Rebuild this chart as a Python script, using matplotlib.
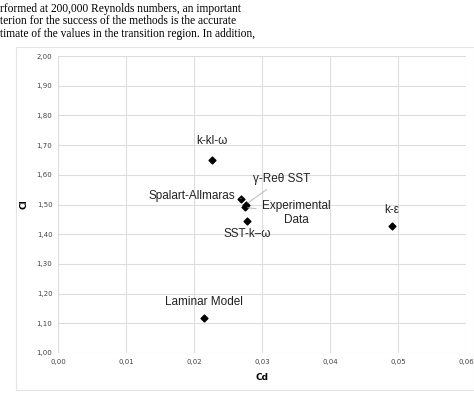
import matplotlib
matplotlib.use("Agg")
import matplotlib.pyplot as plt
from matplotlib.patches import Rectangle

models = ["k-kl-ω", "Spalart-Allmaras", "γ-Reθ SST", "Experimental\nData", "SST-k–ω", "k-ε", "Laminar Model"]
cd = [0.0226, 0.0269, 0.0276, 0.0275, 0.0278, 0.0491, 0.0215]
cl = [1.650, 1.520, 1.500, 1.490, 1.444, 1.428, 1.118]
xticks = [0.00, 0.01, 0.02, 0.03, 0.04, 0.05, 0.06]
yticks = [1.00, 1.10, 1.20, 1.30, 1.40, 1.50, 1.60, 1.70, 1.80, 1.90, 2.00]

W, H = 474, 413
fig = plt.figure(figsize=(W/100, H/100), dpi=100)
fig.patch.set_facecolor("white")

lines = ["rformed at 200,000 Reynolds numbers, an important",
         "terion for the success of the methods is the accurate",
         "timate of the values in the transition region. In addition,"]
for i, t in enumerate(lines):
    fig.text(0.0, 1 - (9 + 12.5*i)/H, t, family="Liberation Serif", fontsize=8.3, va="center", ha="left")

fig.patches.append(Rectangle((16/W, 1-390/H), (474-16)/W, (390-47)/H, transform=fig.transFigure,
                             fill=False, ec="#e4e4e4", lw=0.8))

ax = fig.add_axes([58/W, 1-353/H, (466-58)/W, (353-56)/H])
ax.set_xlim(0, 0.06)
ax.set_ylim(1.0, 2.0)
ax.set_xticks(xticks)
ax.set_yticks(yticks)
ax.set_xticklabels([f"{v:.2f}".replace(".", ",") for v in xticks])
ax.set_yticklabels([f"{v:.2f}".replace(".", ",") for v in yticks])
ax.tick_params(length=0, labelsize=5, colors="#444444", pad=4)
ax.grid(True, color="#dddddd", lw=0.8)
ax.set_axisbelow(True)
for s in ax.spines.values():
    s.set_visible(False)
ax.set_xlabel("Cd", fontsize=6.5, fontweight="bold", labelpad=6)
ax.set_ylabel("Cl", fontsize=6.5, fontweight="bold", labelpad=6)

ax.scatter(cd, cl, marker="D", s=12, color="black", zorder=3)

lab = dict(family="Liberation Sans", fontsize=8.5, color="#222222")
arrow = dict(arrowstyle="-", color="#bbbbbb", lw=0.7)
ax.annotate(models[0], (cd[0], cl[0]), xytext=(0, 9), textcoords="offset points", ha="center", va="bottom", **lab)
ax.annotate(models[1], (cd[1], cl[1]), xytext=(-4, 2), textcoords="offset points", ha="right", va="center", arrowprops=arrow, **lab)
ax.annotate(models[2], (cd[2], cl[2]), xytext=(5, 14), textcoords="offset points", ha="left", va="bottom", arrowprops=arrow, **lab)
ax.annotate(models[3], (cd[3], cl[3]), xytext=(12, -4), textcoords="offset points", ha="left", va="center", multialignment="center", arrowprops=arrow, **lab)
ax.annotate(models[4], (cd[4], cl[4]), xytext=(0, -5), textcoords="offset points", ha="center", va="top", **lab)
ax.annotate(models[5], (cd[5], cl[5]), xytext=(0, 7), textcoords="offset points", ha="center", va="bottom", **lab)
ax.annotate(models[6], (cd[6], cl[6]), xytext=(0, 7), textcoords="offset points", ha="center", va="bottom", **lab)

fig.savefig("out.png", dpi=100, facecolor="white")
